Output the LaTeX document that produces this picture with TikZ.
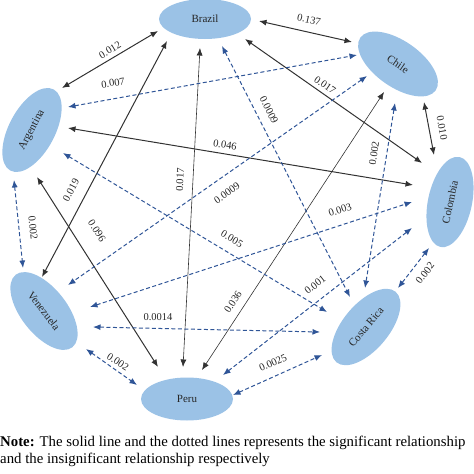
\documentclass[tikz,border=0pt]{standalone}
\usepackage{fontspec}
\setmainfont{Liberation Serif}
\usetikzlibrary{arrows.meta,calc,shapes.geometric}
\definecolor{ellfill}{RGB}{155,194,230}
\definecolor{dblue}{RGB}{47,85,151}
\definecolor{dgray}{RGB}{50,50,50}
\begin{document}
\begin{tikzpicture}[x=1pt,y=-1pt,
  cn/.style={ellipse, fill=ellfill, minimum width=92pt, minimum height=46pt, inner sep=0pt,
    font=\fontsize{11}{12}\selectfont, text=black!85},
  sol/.style={draw=dgray, line width=1pt, {Latex[length=7.5pt,width=6pt]}-{Latex[length=7.5pt,width=6pt]}},
  thinsol/.style={sol, line width=0.6pt},
  dsh/.style={draw=dblue, line width=1pt, dash pattern=on 4pt off 2.5pt,
    {Latex[length=7.5pt,width=6pt]}-{Latex[length=7.5pt,width=6pt]}},
  lab/.style={font=\fontsize{10.5}{12}\selectfont, inner sep=0.5pt, text=black!85}]
\useasboundingbox (0,0) rectangle (474,474);
\clip (0,0) rectangle (474,474);
% countries
\node[cn, minimum height=40pt] (bra) at (205,19) {Brazil};
\node[cn, rotate=-35] (chi) at (398,64) {Chile};
\node[cn, rotate=62] (arg) at (32,130) {Argentina};
\node[cn, rotate=78, minimum height=44pt] (col) at (450,202) {Colombia};
\node[cn, rotate=-52] (ven) at (44,311) {Venezuela};
\node[cn, minimum height=43pt] (per) at (187,399) {Peru};
\node[cn, rotate=50] (cos) at (366,327) {Costa Rica};
% solid (significant)
\draw[sol] ($(bra)+(-47,12)$) -- ($(arg)+(30,-42)$);
\draw[sol] ($(bra)+(54,2)$) -- ($(chi)+(-46,-22)$);
\draw[sol] ($(arg)+(36,-2)$) -- ($(col)+(-37,-17)$);
\draw[sol] ($(bra)+(40,20)$) -- ($(col)+(-28,-39)$);
\draw[sol] ($(chi)+(26,38)$) -- ($(col)+(-16,-47)$);
\draw[sol] ($(bra)+(-38,22)$) -- ($(ven)+(-2,-34)$);
\draw[sol] ($(arg)+(5,47)$) -- ($(per)+(-29,-32)$);
\draw[thinsol] ($(bra)+(-5,29)$) -- ($(per)+(-4,-32)$);
\draw[thinsol] ($(chi)+(-14,28)$) -- ($(per)+(15,-29)$);
% dashed (insignificant)
\draw[dsh] ($(arg)+(36,-23)$) -- ($(chi)+(-41,-9)$);
\draw[dsh] ($(arg)+(-18,50)$) -- ($(ven)+(-21,-43)$);
\draw[dsh] ($(bra)+(17,27)$) -- ($(cos)+(-16,-30)$);
\draw[dsh] ($(chi)+(-31,12)$) -- ($(ven)+(24,-26)$);
\draw[dsh] ($(chi)+(-3,39)$) -- ($(cos)+(-1,-39)$);
\draw[dsh] ($(arg)+(31,23)$) -- ($(cos)+(-39,-15)$);
\draw[dsh] ($(ven)+(46,-4)$) -- ($(col)+(-38,0)$);
\draw[dsh] ($(per)+(36,-24)$) -- ($(col)+(-38,26)$);
\draw[dsh] ($(ven)+(49,16)$) -- ($(cos)+(-46,5)$);
\draw[dsh] ($(ven)+(42,38)$) -- ($(per)+(-50,-14)$);
\draw[dsh] ($(per)+(46,-4)$) -- ($(cos)+(-44,28)$);
\draw[dsh] ($(col)+(-21,46)$) -- ($(cos)+(32,-39)$);
% labels
\node[lab, rotate=31] (l1) at (110,50) {0.012};
\node[lab, rotate=-13] (l2) at (309,20) {0.137};
\node[lab, rotate=8] (l3) at (113,83) {0.007};
\node[lab, rotate=-9] (l4) at (225,145) {0.046};
\node[lab, rotate=-35] (l5) at (325,85) {0.017};
\node[lab, rotate=-80] (l6) at (442,128) {0.010};
\node[lab, rotate=62] (l7) at (71,190) {0.019};
\node[lab, rotate=-57] (l8) at (97,231) {0.096};
\node[lab, rotate=-84] (l9) at (33,228) {0.002};
\node[lab, rotate=87] (l10) at (180,180) {0.017};
\node[lab, rotate=-63] (l11) at (269,110) {0.0009};
\node[lab, rotate=35] (l12) at (227,193) {0.0009};
\node[lab, rotate=57] (l13) at (233,302) {0.036};
\node[lab, rotate=81] (l14) at (374,153) {0.002};
\node[lab, rotate=-31] (l15) at (232,239) {0.005};
\node[lab, rotate=18] (l16) at (340,210) {0.003};
\node[lab, rotate=38] (l17) at (315,285) {0.001};
\node[lab] (l18) at (158,317) {0.0014};
\node[lab, rotate=-33] (l19) at (118,362) {0.002};
\node[lab, rotate=24] (l20) at (273,363) {0.0025};
\node[lab, rotate=52] (l21) at (425,273) {0.002};
% note
\node[anchor=north west, align=left, inner sep=0pt, font=\fontsize{14.8}{17}\selectfont] (note) at (0,436)
  {\textbf{Note:} The solid line and the dotted lines represents the significant relationship\\
   and the insignificant relationship respectively};
\end{tikzpicture}
\end{document}
